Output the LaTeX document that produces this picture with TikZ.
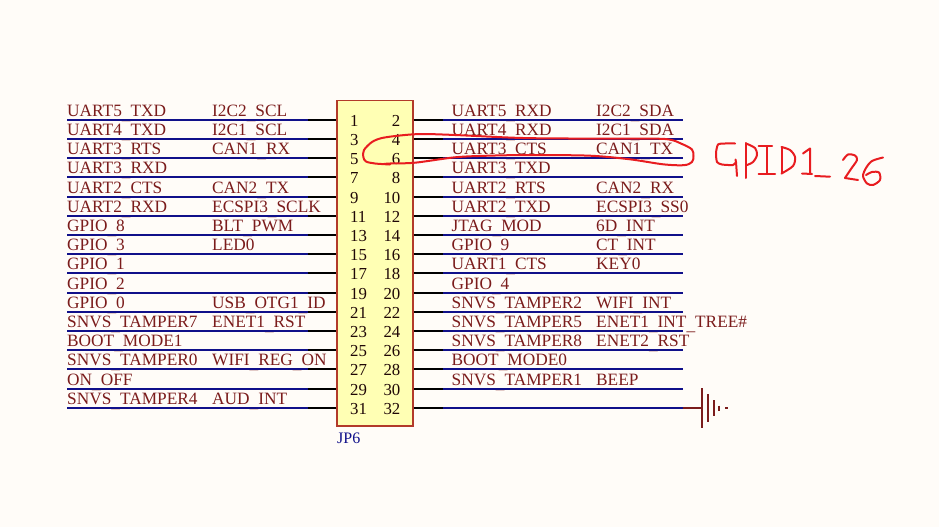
\documentclass[tikz,border=0pt]{standalone}
\usepackage{fontspec}
\setmainfont{Liberation Serif}
\definecolor{pagebg}{HTML}{FFFCF8}
\definecolor{nettext}{HTML}{7B1C1C}
\definecolor{netblue}{HTML}{10108A}
\definecolor{boxfill}{HTML}{FFFFB4}
\definecolor{boxedge}{HTML}{B23A2A}
\definecolor{inkred}{HTML}{E81C20}
\newcommand\us{\raisebox{-3.2pt}{\_}}
\tikzset{
  nettxt/.style={anchor=base west,inner sep=0pt,text=nettext,font=\fontsize{17.3}{18}\selectfont},
  pinnum/.style={inner sep=0pt,text=black!75!nettext,font=\fontsize{16.8}{18}\selectfont},
  wireblue/.style={draw=netblue,line width=1.9pt},
  wireblack/.style={draw=black,line width=1.9pt},
  gnd/.style={draw=nettext,line width=1.8pt},
  ink/.style={draw=inkred,line width=2pt,line cap=round,line join=round},
  hdr/.style={draw=boxedge,fill=boxfill,line width=1.2pt,minimum width=76pt,minimum height=325.5pt,inner sep=0pt},
}
\begin{document}
\begin{tikzpicture}[x=1pt,y=-1pt]
\path[use as bounding box,fill=pagebg] (0,0) rectangle (939,527);
\node[hdr] (hdr) at (375,263.2) {};
\node[anchor=base west,inner sep=0pt,text=netblue,font=\fontsize{16}{18}\selectfont] (ref) at (337,443) {JP6};
% left labels
\foreach \n/\k/\t in {
 a0/0/UART5\us TXD,a1/1/UART4\us TXD,a2/2/UART3\us RTS,a3/3/UART3\us RXD,a4/4/UART2\us CTS,a5/5/UART2\us RXD,
 a6/6/GPIO\us 8,a7/7/GPIO\us 3,a8/8/GPIO\us 1,a9/9/GPIO\us 2,a10/10/GPIO\us 0,a11/11/SNVS\us TAMPER7,
 a12/12/BOOT\us MODE1,a13/13/SNVS\us TAMPER0,a14/14/ON\us OFF,a15/15/SNVS\us TAMPER4}
  {\pgfmathsetmacro{\by}{round(119.8+19.2*\k)-3.7}
  \node[nettxt] (\n) at (67,\by) {\t};}
\foreach \n/\k/\t in {
 b0/0/I2C2\us SCL,b1/1/I2C1\us SCL,b2/2/CAN1\us RX,b4/4/CAN2\us TX,b5/5/ECSPI3\us SCLK,b6/6/BLT\us PWM,b7/7/LED0,
 b10/10/USB\us OTG1\us ID,b11/11/ENET1\us RST,b13/13/WIFI\us REG\us ON,b15/15/AUD\us INT}
  {\pgfmathsetmacro{\by}{round(119.8+19.2*\k)-3.7}
  \node[nettxt] (\n) at (212,\by) {\t};}
% right labels
\foreach \n/\k/\t in {
 c0/0/UART5\us RXD,c1/1/UART4\us RXD,c2/2/UART3\us CTS,c3/3/UART3\us TXD,c4/4/UART2\us RTS,c5/5/UART2\us TXD,
 c6/6/JTAG\us MOD,c7/7/GPIO\us 9,c8/8/UART1\us CTS,c9/9/GPIO\us 4,c10/10/SNVS\us TAMPER2,c11/11/SNVS\us TAMPER5,
 c12/12/SNVS\us TAMPER8,c13/13/BOOT\us MODE0,c14/14/SNVS\us TAMPER1}
  {\pgfmathsetmacro{\by}{round(119.8+19.2*\k)-3.7}
  \node[nettxt] (\n) at (451.5,\by) {\t};}
\foreach \n/\k/\t in {
 d0/0/I2C2\us SDA,d1/1/I2C1\us SDA,d2/2/CAN1\us TX,d4/4/CAN2\us RX,d5/5/ECSPI3\us SS0,d6/6/6D\us INT,d7/7/CT\us INT,
 d8/8/KEY0,d10/10/WIFI\us INT,d11/11/ENET1\us INT\us TREE\#,d12/12/ENET2\us RST,d14/14/BEEP}
  {\pgfmathsetmacro{\by}{round(119.8+19.2*\k)-3.7}
  \node[nettxt] (\n) at (596,\by) {\t};}
% pin numbers and wires
\foreach \k in {0,...,15}{
  \pgfmathtruncatemacro{\odd}{2*\k+1}
  \pgfmathtruncatemacro{\even}{2*\k+2}
  \pgfmathsetmacro{\wy}{round(119.8+19.2*\k)}
  \node[pinnum,anchor=base west] (p\odd) at (350,{126.2+19.2*\k}) {\odd};
  \node[pinnum,anchor=base east] (p\even) at (400.5,{126.2+19.2*\k}) {\even};
  \coordinate (ls\k) at (67,\wy);
  \coordinate (lm\k) at (308,\wy);
  \coordinate (lp\k) at (hdr.west |- ls\k);
  \coordinate (rp\k) at (hdr.east |- ls\k);
  \coordinate (rm\k) at (443,\wy);
  \coordinate (re\k) at (683,\wy);
  \draw[wireblue] (ls\k) -- (lm\k);
  \draw[wireblack] (lm\k) -- (lp\k);
  \draw[wireblack] (rp\k) -- (rm\k);
  \draw[wireblue] (rm\k) -- (re\k);
}
% ground symbol
\coordinate (g1) at (702.3,408);
\draw[gnd] (re15) -- (g1);
\draw[gnd] (702.3,388) -- (702.3,427.5);
\draw[gnd] (708,394) -- (708,421.7);
\draw[gnd] (713.7,400) -- (713.7,416);
\draw[gnd] (719.3,405.5) -- (719.3,410.5);
\draw[gnd,line width=1.2pt] (725,408) -- (728.3,408);
% red annotation loop
\draw[ink] plot[smooth,tension=0.5] coordinates {
 (390,164.5) (375,163.5) (366,161.5) (363.3,157) (364,150) (372,142) (382,138) (400,135.5) (421.7,134) (455,135)
 (508,137.5) (540,138.3) (610,138.7) (665,139) (682,144) (692,149.5) (693.5,156) (692,162) (684,165.2) (663,164.3) (630,159.3)
 (590,155.7) (530,155) (488,155.7) (455,157.3) (415,162.7) (390,163.5) (384,164)};
% handwriting GPIO1_26
\begin{scope}[ink]
\draw plot[smooth,tension=0.4] coordinates {(735,143.5) (725,143.5) (718,144.5) (716,153) (717,162) (722,164.5) (733,165) (736,162)};
\draw (735.5,159.5) -- (736,162) -- (737,176);
\draw (746,143) -- (746,178);
\draw plot[smooth,tension=0.5] coordinates {(746,143.5) (755,148) (757,155) (753,162) (747,165)};
\draw (758.5,146) -- (772,146);
\draw (766.5,146.5) -- (766.5,173);
\draw (758.5,173.5) -- (775,173.5);
\draw (781.5,147) -- (781.5,173.5);
\draw plot[smooth,tension=0.5] coordinates {(781.5,147) (790,150) (795,157) (793,166) (781.5,173.5)};
\draw (803,153.5) -- (810,148.5) -- (810,173.5);
\draw (802,173.5) -- (812,174);
\draw (815,176) -- (830,176.7);
\draw plot[smooth,tension=0.5] coordinates {(843,160) (848,154.5) (855,155.5) (857,160) (851,169) (845,178)};
\draw (845,178) -- (858,180);
\draw plot[smooth,tension=0.5] coordinates {(883,157.5) (872,161) (866,168) (863,176) (867,183.5) (873,185) (880,180) (879,172.5) (872,172) (866,175)};
\end{scope}
\end{tikzpicture}
\end{document}
